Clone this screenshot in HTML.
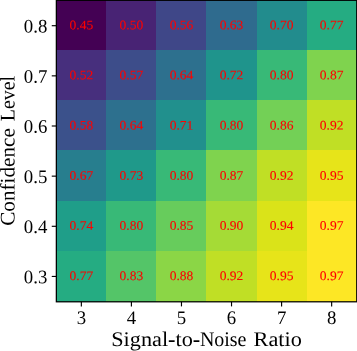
<!DOCTYPE html>
<html><head><meta charset="utf-8"><title>Heatmap</title>
<style>
html,body{margin:0;padding:0;background:#fff;overflow:hidden}
svg{display:block}
text{font-family:"Liberation Serif","DejaVu Serif",serif;text-rendering:geometricPrecision}
.cell text{font-size:13.0px;fill:#ff0000;text-anchor:middle;stroke:#ff0000;stroke-width:0.1px}
.tick text{font-size:19.2px;fill:#000}
.labs{font-size:20.8px;fill:#000;text-anchor:start}
</style></head><body>
<svg width="357" height="351" viewBox="0 0 357 351">
<rect x="0" y="0" width="357" height="351" fill="#ffffff"/>
<g shape-rendering="crispEdges">
<rect x="56" y="0" width="50" height="50" fill="#440154"/>
<rect x="106" y="0" width="50" height="50" fill="#482374"/>
<rect x="156" y="0" width="50" height="50" fill="#3f4788"/>
<rect x="206" y="0" width="51" height="50" fill="#2f6b8e"/>
<rect x="257" y="0" width="50" height="50" fill="#228c8d"/>
<rect x="307" y="0" width="50" height="50" fill="#25ac82"/>
<rect x="56" y="50" width="50" height="50" fill="#472f7d"/>
<rect x="106" y="50" width="50" height="50" fill="#3d4d8a"/>
<rect x="156" y="50" width="50" height="50" fill="#2d708e"/>
<rect x="206" y="50" width="51" height="50" fill="#1f948c"/>
<rect x="257" y="50" width="50" height="50" fill="#38b977"/>
<rect x="307" y="50" width="50" height="50" fill="#7fd34e"/>
<rect x="56" y="100" width="50" height="50" fill="#3b518b"/>
<rect x="106" y="100" width="50" height="50" fill="#2d708e"/>
<rect x="156" y="100" width="50" height="50" fill="#21908d"/>
<rect x="206" y="100" width="51" height="50" fill="#38b977"/>
<rect x="257" y="100" width="50" height="50" fill="#73d056"/>
<rect x="307" y="100" width="50" height="50" fill="#c0df25"/>
<rect x="56" y="150" width="50" height="51" fill="#277e8e"/>
<rect x="106" y="150" width="50" height="51" fill="#1f998a"/>
<rect x="156" y="150" width="50" height="51" fill="#38b977"/>
<rect x="206" y="150" width="51" height="51" fill="#7fd34e"/>
<rect x="257" y="150" width="50" height="51" fill="#c0df25"/>
<rect x="307" y="150" width="50" height="51" fill="#e7e419"/>
<rect x="56" y="201" width="50" height="50" fill="#1f9e89"/>
<rect x="106" y="201" width="50" height="50" fill="#38b977"/>
<rect x="156" y="201" width="50" height="50" fill="#67cc5c"/>
<rect x="206" y="201" width="51" height="50" fill="#a5db36"/>
<rect x="257" y="201" width="50" height="50" fill="#dae319"/>
<rect x="307" y="201" width="50" height="50" fill="#fde725"/>
<rect x="56" y="251" width="50" height="51" fill="#25ac82"/>
<rect x="106" y="251" width="50" height="51" fill="#54c568"/>
<rect x="156" y="251" width="50" height="51" fill="#8bd646"/>
<rect x="206" y="251" width="51" height="51" fill="#c0df25"/>
<rect x="257" y="251" width="50" height="51" fill="#e7e419"/>
<rect x="307" y="251" width="50" height="51" fill="#fde725"/>
</g>
<g class="cell">
<text transform="translate(81.35,29.20) rotate(0.03) scale(1.04,1)">0.45</text>
<text transform="translate(131.41,29.20) rotate(0.03) scale(1.04,1)">0.50</text>
<text transform="translate(181.47,29.20) rotate(0.03) scale(1.04,1)">0.56</text>
<text transform="translate(231.53,29.20) rotate(0.03) scale(1.04,1)">0.63</text>
<text transform="translate(281.59,29.20) rotate(0.03) scale(1.04,1)">0.70</text>
<text transform="translate(331.65,29.20) rotate(0.03) scale(1.04,1)">0.77</text>
<text transform="translate(81.35,79.35) rotate(0.03) scale(1.04,1)">0.52</text>
<text transform="translate(131.41,79.35) rotate(0.03) scale(1.04,1)">0.57</text>
<text transform="translate(181.47,79.35) rotate(0.03) scale(1.04,1)">0.64</text>
<text transform="translate(231.53,79.35) rotate(0.03) scale(1.04,1)">0.72</text>
<text transform="translate(281.59,79.35) rotate(0.03) scale(1.04,1)">0.80</text>
<text transform="translate(331.65,79.35) rotate(0.03) scale(1.04,1)">0.87</text>
<text transform="translate(81.35,129.50) rotate(0.03) scale(1.04,1)">0.58</text>
<text transform="translate(131.41,129.50) rotate(0.03) scale(1.04,1)">0.64</text>
<text transform="translate(181.47,129.50) rotate(0.03) scale(1.04,1)">0.71</text>
<text transform="translate(231.53,129.50) rotate(0.03) scale(1.04,1)">0.80</text>
<text transform="translate(281.59,129.50) rotate(0.03) scale(1.04,1)">0.86</text>
<text transform="translate(331.65,129.50) rotate(0.03) scale(1.04,1)">0.92</text>
<text transform="translate(81.35,179.65) rotate(0.03) scale(1.04,1)">0.67</text>
<text transform="translate(131.41,179.65) rotate(0.03) scale(1.04,1)">0.73</text>
<text transform="translate(181.47,179.65) rotate(0.03) scale(1.04,1)">0.80</text>
<text transform="translate(231.53,179.65) rotate(0.03) scale(1.04,1)">0.87</text>
<text transform="translate(281.59,179.65) rotate(0.03) scale(1.04,1)">0.92</text>
<text transform="translate(331.65,179.65) rotate(0.03) scale(1.04,1)">0.95</text>
<text transform="translate(81.35,229.80) rotate(0.03) scale(1.04,1)">0.74</text>
<text transform="translate(131.41,229.80) rotate(0.03) scale(1.04,1)">0.80</text>
<text transform="translate(181.47,229.80) rotate(0.03) scale(1.04,1)">0.85</text>
<text transform="translate(231.53,229.80) rotate(0.03) scale(1.04,1)">0.90</text>
<text transform="translate(281.59,229.80) rotate(0.03) scale(1.04,1)">0.94</text>
<text transform="translate(331.65,229.80) rotate(0.03) scale(1.04,1)">0.97</text>
<text transform="translate(81.35,279.95) rotate(0.03) scale(1.04,1)">0.77</text>
<text transform="translate(131.41,279.95) rotate(0.03) scale(1.04,1)">0.83</text>
<text transform="translate(181.47,279.95) rotate(0.03) scale(1.04,1)">0.88</text>
<text transform="translate(231.53,279.95) rotate(0.03) scale(1.04,1)">0.92</text>
<text transform="translate(281.59,279.95) rotate(0.03) scale(1.04,1)">0.95</text>
<text transform="translate(331.65,279.95) rotate(0.03) scale(1.04,1)">0.97</text>
</g>
<rect x="56.35" y="0.30" width="300.40" height="301.50" fill="none" stroke="#000" stroke-width="1.25"/>
<g stroke="#000" stroke-width="1.15">
<line x1="81.35" y1="301.80" x2="81.35" y2="306.40"/>
<line x1="131.41" y1="301.80" x2="131.41" y2="306.40"/>
<line x1="181.47" y1="301.80" x2="181.47" y2="306.40"/>
<line x1="231.53" y1="301.80" x2="231.53" y2="306.40"/>
<line x1="281.59" y1="301.80" x2="281.59" y2="306.40"/>
<line x1="331.65" y1="301.80" x2="331.65" y2="306.40"/>
<line x1="56.35" y1="25.70" x2="51.75" y2="25.70"/>
<line x1="56.35" y1="75.85" x2="51.75" y2="75.85"/>
<line x1="56.35" y1="126.00" x2="51.75" y2="126.00"/>
<line x1="56.35" y1="176.15" x2="51.75" y2="176.15"/>
<line x1="56.35" y1="226.30" x2="51.75" y2="226.30"/>
<line x1="56.35" y1="276.45" x2="51.75" y2="276.45"/>
</g>
<g class="tick">
<text text-anchor="middle" transform="translate(81.35,323.9) rotate(0.03) scale(0.98,1)">3</text>
<text text-anchor="middle" transform="translate(131.41,323.9) rotate(0.03) scale(0.98,1)">4</text>
<text text-anchor="middle" transform="translate(181.47,323.9) rotate(0.03) scale(0.98,1)">5</text>
<text text-anchor="middle" transform="translate(231.53,323.9) rotate(0.03) scale(0.98,1)">6</text>
<text text-anchor="middle" transform="translate(281.59,323.9) rotate(0.03) scale(0.98,1)">7</text>
<text text-anchor="middle" transform="translate(331.65,323.9) rotate(0.03) scale(0.98,1)">8</text>
<text text-anchor="end" transform="translate(47.3,32.50) rotate(0.03) scale(0.98,1)">0.8</text>
<text text-anchor="end" transform="translate(47.3,82.65) rotate(0.03) scale(0.98,1)">0.7</text>
<text text-anchor="end" transform="translate(47.3,132.80) rotate(0.03) scale(0.98,1)">0.6</text>
<text text-anchor="end" transform="translate(47.3,182.95) rotate(0.03) scale(0.98,1)">0.5</text>
<text text-anchor="end" transform="translate(47.3,233.10) rotate(0.03) scale(0.98,1)">0.4</text>
<text text-anchor="end" transform="translate(47.3,283.25) rotate(0.03) scale(0.98,1)">0.3</text>
</g>
<text class="labs" transform="translate(111.2,346) rotate(0.03) scale(1.07,1)">Signal-to-</text>
<text class="labs" transform="translate(199.9,346) rotate(0.03) scale(0.96,1)">Noise</text>
<text class="labs" transform="translate(253.6,346) rotate(0.03) scale(1.07,1)">Ratio</text>
<text class="labs" transform="translate(14.5,225.8) rotate(-90.03) scale(1.018,1)">Confidence</text>
<text class="labs" transform="translate(14.5,121.3) rotate(-90.03) scale(0.96,1)">Level</text>
</svg></body></html>
